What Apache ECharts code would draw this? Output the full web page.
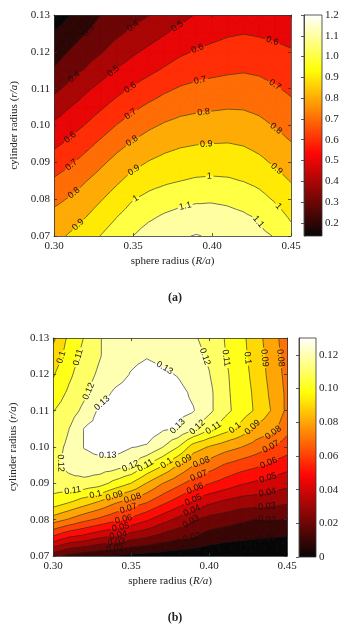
<!DOCTYPE html>
<html><head><meta charset="utf-8">
<script src="https://cdn.jsdelivr.net/npm/echarts@6/dist/echarts.min.js"></script>
<style>html,body{margin:0;padding:0;background:#fff}#c{width:350px;height:629px}</style>
</head><body><div id="c"></div>
<script>
// ---------------- data ----------------
const sphereR = [0.30,0.31,0.32,0.33,0.34,0.35,0.36,0.37,0.38,0.39,0.40,0.41,0.42,0.43,0.44,0.45];
const cylR = [0.070,0.075,0.080,0.085,0.090,0.095,0.100,0.105,0.110,0.115,0.120,0.125,0.130];

// (a) rows: cylinder radius 0.070 -> 0.130, columns: sphere radius 0.30 -> 0.45
const fieldA = [
  [0.870,0.910,0.950,1.005,1.055,1.100,1.145,1.170,1.190,1.205,1.190,1.170,1.150,1.120,1.095,1.036],
  [0.835,0.860,0.900,0.950,1.002,1.049,1.086,1.116,1.135,1.147,1.141,1.130,1.116,1.092,1.044,0.989],
  [0.774,0.809,0.848,0.895,0.944,0.997,1.026,1.051,1.073,1.085,1.089,1.082,1.064,1.031,0.989,0.942],
  [0.713,0.749,0.796,0.841,0.887,0.934,0.966,0.984,0.999,1.011,1.015,1.011,0.997,0.974,0.937,0.895],
  [0.646,0.687,0.735,0.784,0.832,0.872,0.905,0.928,0.944,0.953,0.956,0.955,0.946,0.921,0.886,0.850],
  [0.580,0.621,0.671,0.721,0.771,0.813,0.845,0.871,0.888,0.897,0.901,0.903,0.894,0.872,0.840,0.805],
  [0.518,0.560,0.605,0.655,0.705,0.748,0.784,0.811,0.830,0.839,0.844,0.849,0.843,0.824,0.794,0.763],
  [0.448,0.498,0.545,0.590,0.637,0.681,0.718,0.748,0.770,0.781,0.788,0.794,0.792,0.778,0.751,0.722],
  [0.377,0.427,0.483,0.529,0.571,0.610,0.647,0.683,0.709,0.724,0.732,0.740,0.742,0.732,0.709,0.683],
  [0.308,0.363,0.409,0.462,0.508,0.547,0.579,0.612,0.646,0.666,0.678,0.687,0.693,0.685,0.666,0.645],
  [0.257,0.306,0.354,0.394,0.442,0.486,0.521,0.553,0.584,0.608,0.625,0.639,0.646,0.638,0.623,0.608],
  [0.209,0.253,0.298,0.347,0.385,0.422,0.461,0.495,0.528,0.554,0.573,0.590,0.598,0.591,0.580,0.570],
  [0.140,0.198,0.249,0.302,0.335,0.365,0.398,0.433,0.473,0.505,0.525,0.542,0.551,0.544,0.537,0.533]
];

// (b)
const fieldB = [
  [0.024,0.017,0.014,0.011,0.009,0.007,0.006,0.005,0.004,0.003,0.002,0.001,0.0005,0,0,0],
  [0.057,0.049,0.0455,0.0403,0.037,0.0331,0.0297,0.0252,0.0215,0.0195,0.0151,0.013,0.0117,0.0107,0.0099,0.0088],
  [0.085,0.079,0.0726,0.0676,0.062,0.0576,0.0515,0.0441,0.0375,0.0302,0.0266,0.0245,0.0218,0.0196,0.0202,0.0195],
  [0.107,0.1015,0.0956,0.0895,0.082,0.0765,0.0713,0.0635,0.056,0.0485,0.0425,0.0388,0.0358,0.035,0.0335,0.032],
  [0.114,0.117,0.117,0.114,0.1065,0.0998,0.0896,0.0803,0.073,0.0655,0.0605,0.0561,0.0514,0.0482,0.0455,0.043],
  [0.118,0.1225,0.126,0.126,0.1245,0.121,0.1098,0.101,0.0898,0.0802,0.0753,0.0692,0.0652,0.062,0.0578,0.054],
  [0.116,0.122,0.1305,0.1335,0.1345,0.1305,0.129,0.1205,0.1102,0.095,0.0893,0.0844,0.0805,0.0755,0.0695,0.0647],
  [0.113,0.1198,0.1305,0.1335,0.135,0.136,0.136,0.1315,0.1295,0.1215,0.1115,0.1045,0.097,0.087,0.084,0.073],
  [0.1096,0.115,0.1225,0.132,0.134,0.1355,0.137,0.136,0.133,0.1305,0.1225,0.113,0.106,0.0987,0.0895,0.078],
  [0.104,0.1115,0.118,0.126,0.1315,0.1335,0.136,0.1345,0.1325,0.1285,0.1225,0.1125,0.1053,0.098,0.088,0.078],
  [0.099,0.108,0.1155,0.122,0.1263,0.1305,0.133,0.1315,0.1295,0.1255,0.1205,0.112,0.1046,0.0968,0.0865,0.077],
  [0.094,0.105,0.113,0.1195,0.1265,0.128,0.1295,0.128,0.1265,0.124,0.1185,0.1105,0.1038,0.0955,0.0855,0.076],
  [0.088,0.102,0.1105,0.1195,0.1235,0.1255,0.127,0.1265,0.125,0.1215,0.116,0.1098,0.1032,0.0945,0.0845,0.075]
];

const levelsA = [0.2,0.3,0.4,0.5,0.6,0.7,0.8,0.9,1.0,1.1,1.2];
const levelsB = [0.01,0.02,0.03,0.04,0.05,0.06,0.07,0.08,0.09,0.10,0.11,0.12,0.13];
const cbRangeA = [0.137, 1.2];
const cbRangeB = [0, 0.13];
const cbTicksA = [0.2,0.3,0.4,0.5,0.6,0.7,0.8,0.9,1.0,1.1,1.2];
const cbTicksB = [0,0.02,0.04,0.06,0.08,0.10,0.12];
const xTicks = [0.30,0.35,0.40,0.45];
const yTicks = [0.07,0.08,0.09,0.10,0.11,0.12,0.13];

// ---------------- helpers ----------------
function tone(c){ return Math.round(6 + c * 249); }
function hot(t){
  t = Math.max(0, Math.min(1, t));
  const r = Math.min(1, t / 0.375);
  const g = Math.max(0, Math.min(1, (t - 0.375) / 0.375));
  const b = Math.max(0, Math.min(1, (t - 0.75) / 0.25));
  return 'rgb(' + tone(r) + ',' + tone(g) + ',' + tone(b) + ')';
}
const hotStops = [0, 0.375, 0.75, 1].map(o => ({offset: o, color: hot(o)}));

function makeTris(field){
  const tris = [];
  for (let j = 0; j < cylR.length - 1; j++) for (let i = 0; i < sphereR.length - 1; i++){
    const p00 = {id:'n'+j+'_'+i, x:sphereR[i], y:cylR[j], v:field[j][i]};
    const p10 = {id:'n'+j+'_'+(i+1), x:sphereR[i+1], y:cylR[j], v:field[j][i+1]};
    const p11 = {id:'n'+(j+1)+'_'+(i+1), x:sphereR[i+1], y:cylR[j+1], v:field[j+1][i+1]};
    const p01 = {id:'n'+(j+1)+'_'+i, x:sphereR[i], y:cylR[j+1], v:field[j+1][i]};
    const c = {id:'c'+j+'_'+i, x:(p00.x+p10.x)/2, y:(p00.y+p01.y)/2, v:(p00.v+p10.v+p11.v+p01.v)/4};
    tris.push([p00,p10,c],[p10,p11,c],[p11,p01,c],[p01,p00,c]);
  }
  return tris;
}
function clip(poly, f){
  const out = [];
  for (let k = 0; k < poly.length; k++){
    const a = poly[k], b = poly[(k+1) % poly.length];
    const fa = f(a.v), fb = f(b.v);
    if (fa >= 0) out.push(a);
    if ((fa >= 0) !== (fb >= 0)){
      const t = fa / (fa - fb);
      out.push({x:a.x+(b.x-a.x)*t, y:a.y+(b.y-a.y)*t, v:a.v+(b.v-a.v)*t});
    }
  }
  return out;
}
function chain(segs){
  const adj = new Map();
  segs.forEach((s, i) => s.forEach(k => { if (!adj.has(k)) adj.set(k, []); adj.get(k).push(i); }));
  const used = new Array(segs.length).fill(false);
  const lines = [];
  const walk = start => {
    const out = [start]; let cur = start;
    while (true){
      const list = adj.get(cur) || []; let nxt = -1;
      for (const i of list){ if (!used[i]) { nxt = i; break; } }
      if (nxt < 0) break;
      used[nxt] = true;
      const s = segs[nxt]; cur = (s[0] === cur) ? s[1] : s[0];
      out.push(cur);
    }
    return out;
  };
  for (const [k, list] of adj){ if (list.length === 1 && !used[list[0]]) lines.push(walk(k)); }
  segs.forEach((s, i) => { if (!used[i]) lines.push(walk(s[0])); });
  return lines;
}
function pointAt(pts, cum, d){
  let i = 1; while (i < cum.length - 1 && cum[i] < d) i++;
  const seg = cum[i] - cum[i-1]; const t = seg > 0 ? (d - cum[i-1]) / seg : 0;
  return [pts[i-1][0] + (pts[i][0]-pts[i-1][0])*t, pts[i-1][1] + (pts[i][1]-pts[i-1][1])*t];
}
function subPath(pts, cum, a, b){
  const out = [pointAt(pts, cum, a)];
  for (let i = 0; i < pts.length; i++) if (cum[i] > a && cum[i] < b) out.push(pts[i]);
  out.push(pointAt(pts, cum, b));
  return out;
}
const LABEL_START = 20, LABEL_SPACING = 78, LINE_COLOR = '#161616', LABEL_SIZE = 9;
function drawLabeled(pts, L, closed, kids){
  if (closed){
    const n = pts.length - 1; let idx = 0;
    for (let i = 1; i < n; i++) if (pts[i][1] < pts[idx][1]) idx = i;
    pts = pts.slice(idx, n).concat(pts.slice(0, idx)).concat([pts[idx]]);
  } else if (pts[0][0] < pts[pts.length-1][0]) pts = pts.slice().reverse();
  const cum = [0];
  for (let i = 1; i < pts.length; i++) cum.push(cum[i-1] + Math.hypot(pts[i][0]-pts[i-1][0], pts[i][1]-pts[i-1][1]));
  const total = cum[cum.length-1];
  const text = String(+L.toFixed(3));
  const w = text.replace('.', '').length * LABEL_SIZE * 0.556 + (text.indexOf('.') >= 0 ? LABEL_SIZE * 0.278 : 0);
  const labels = [];
  if (total > 30) for (let d = LABEL_START; d <= total - 12; d += LABEL_SPACING) labels.push(d);
  const pieces = []; let s0 = 0;
  labels.forEach(d => { pieces.push([s0, d - w/2 - 1.5]); s0 = d + w/2 + 1.5; });
  pieces.push([s0, total]);
  pieces.forEach(([a, b]) => {
    if (b - a > 0.3){
      kids.push({type:'polyline', silent:true, z2:20, shape:{points:subPath(pts, cum, a, b)},
        style:{stroke:LINE_COLOR, lineWidth:0.6, fill:null}});
    }
  });
  labels.forEach(d => {
    const p = pointAt(pts, cum, d);
    const p1 = pointAt(pts, cum, Math.max(0, d - 5)), p2 = pointAt(pts, cum, Math.min(total, d + 5));
    let ang = Math.atan2(p2[1]-p1[1], p2[0]-p1[0]);
    if (ang > Math.PI/2) ang -= Math.PI;
    if (ang < -Math.PI/2) ang += Math.PI;
    kids.push({type:'text', silent:true, z2:30, x:p[0], y:p[1], rotation:-ang,
      style:{text:text, fill:'#111', fontSize:LABEL_SIZE, fontFamily:'Liberation Sans', align:'center', verticalAlign:'middle'}});
  });
}
function buildChildren(field, levels, range, api){
  const tris = makeTris(field);
  const px = p => api.coord([p.x, p.y]);
  const kids = [];
  const span = range[1] - range[0];
  // painter's order: paint each super-level set {v >= level} over the one below
  const floors = [-Infinity].concat(levels);
  floors.forEach((lo, k) => {
    const col = k === 0 ? hot(0) : hot((lo - range[0]) / span);
    tris.forEach(tri => {
      const vmax = Math.max(tri[0].v, tri[1].v, tri[2].v);
      if (lo > vmax) return;
      let poly = tri.map(p => ({x:p.x, y:p.y, v:p.v}));
      if (isFinite(lo)) poly = clip(poly, v => v - lo);
      if (poly.length < 3) return;
      kids.push({type:'polygon', silent:true, z2:k, shape:{points:poly.map(px)}, style:{fill:col, stroke:col, lineWidth:0.9}});
    });
  });
  levels.forEach(L => {
    const segs = []; const ptOf = {};
    tris.forEach(tri => {
      const cross = [];
      for (let e = 0; e < 3; e++){
        let a = tri[e], b = tri[(e+1) % 3];
        if ((a.v >= L) !== (b.v >= L)){
          if (a.id > b.id) { const tmp = a; a = b; b = tmp; }
          const key = a.id + '|' + b.id;
          if (!ptOf[key]){ const t = (L - a.v) / (b.v - a.v); ptOf[key] = {x:a.x+(b.x-a.x)*t, y:a.y+(b.y-a.y)*t}; }
          cross.push(key);
        }
      }
      if (cross.length === 2) segs.push(cross);
    });
    chain(segs).forEach(keys => {
      const pts = keys.map(k => px(ptOf[k]));
      drawLabeled(pts, L, keys.length > 2 && keys[0] === keys[keys.length-1], kids);
    });
  });
  return kids;
}

// ---------------- chart ----------------
const SERIF = 'Liberation Serif';
const TXT = '#222';
const AX = '#333';
function mainX(grid, named){
  return {gridIndex:grid, type:'value', min:0.30, max:0.45, interval:0.05, position: named ? 'bottom' : 'top', z:5,
    axisLine:{show:true, onZero:false, lineStyle:{color:AX, width:0.8}},
    axisTick:{show:true, inside:true, length:3, customValues:xTicks, lineStyle:{color:AX, width:0.8}},
    axisLabel:{show:named, customValues:xTicks, formatter:v => v.toFixed(2), color:TXT, fontFamily:SERIF, fontSize:11, margin:5},
    splitLine:{show:false},
    name: named ? 'sphere radius ({i|R/a})' : '', nameLocation:'middle', nameGap:20,
    nameTextStyle:{color:TXT, fontFamily:SERIF, fontSize:11, rich:{i:{fontStyle:'italic', fontFamily:SERIF, fontSize:11, color:TXT}}}};
}
function mainY(grid, named){
  return {gridIndex:grid, type:'value', min:0.07, max:0.13, interval:0.01, position: named ? 'left' : 'right', z:5,
    axisLine:{show:true, onZero:false, lineStyle:{color:AX, width:0.8}},
    axisTick:{show:true, inside:true, length:3, customValues:yTicks, lineStyle:{color:AX, width:0.8}},
    axisLabel:{show:named, customValues:yTicks, formatter:v => v.toFixed(2), color:TXT, fontFamily:SERIF, fontSize:11, margin:4},
    splitLine:{show:false},
    name: named ? 'cylinder radius ({i|r/a})' : '', nameLocation:'middle', nameGap:33, nameRotate:90,
    nameTextStyle:{color:TXT, fontFamily:SERIF, fontSize:11, rich:{i:{fontStyle:'italic', fontFamily:SERIF, fontSize:11, color:TXT}}}};
}
function cbX(grid){ return {gridIndex:grid, type:'value', min:0, max:1, show:false}; }
function cbY(grid, range, ticks, fmt){
  return {gridIndex:grid, type:'value', min:range[0], max:range[1], position:'right', z:5,
    axisLine:{show:true, lineStyle:{color:AX, width:0.8}},
    axisTick:{show:true, inside:true, length:3, customValues:ticks, lineStyle:{color:AX, width:0.8}},
    axisLabel:{customValues:ticks, formatter:fmt, color:TXT, fontFamily:SERIF, fontSize:11, margin:3},
    splitLine:{show:false}};
}
function contourSeries(field, levels, range, ai){
  return {type:'custom', coordinateSystem:'cartesian2d', xAxisIndex:ai, yAxisIndex:ai, clip:true, silent:true,
    data:[[0.375, 0.10]],
    renderItem:(params, api) => ({type:'group', children:buildChildren(field, levels, range, api)})};
}
function colorbarSeries(range, ai){
  return {type:'custom', coordinateSystem:'cartesian2d', xAxisIndex:ai, yAxisIndex:ai, silent:true,
    data:[[0.5, (range[0]+range[1])/2]],
    renderItem:(params, api) => {
      const a = api.coord([0, range[0]]), b = api.coord([1, range[1]]);
      return {type:'rect', shape:{x:a[0], y:b[1], width:b[0]-a[0], height:a[1]-b[1]},
        style:{fill:{type:'linear', x:0, y:1, x2:0, y2:0, colorStops:hotStops}, stroke:AX, lineWidth:0.8}};
    }};
}

const chart = echarts.init(document.getElementById('c'), null, {renderer:'canvas'});
chart.setOption({
  animation:false,
  backgroundColor:'#fff',
  title:[
    {text:'(a)', left:'center', top:287, textStyle:{fontFamily:SERIF, fontSize:12, fontWeight:'bold', color:TXT}},
    {text:'(b)', left:'center', top:607, textStyle:{fontFamily:SERIF, fontSize:12, fontWeight:'bold', color:TXT}}
  ],
  grid:[
    {left:54, top:15, width:237, height:221},
    {left:304, top:15, width:18, height:221},
    {left:53, top:338, width:234, height:218},
    {left:299, top:338, width:17, height:219}
  ],
  xAxis:[mainX(0,true), mainX(0,false), cbX(1), mainX(2,true), mainX(2,false), cbX(3)],
  yAxis:[mainY(0,true), mainY(0,false), cbY(1, cbRangeA, cbTicksA, v => v.toFixed(1)),
         mainY(2,true), mainY(2,false), cbY(3, cbRangeB, cbTicksB, v => v === 0 ? '0' : v.toFixed(2))],
  series:[
    contourSeries(fieldA, levelsA, cbRangeA, 0),
    colorbarSeries(cbRangeA, 2),
    contourSeries(fieldB, levelsB, cbRangeB, 3),
    colorbarSeries(cbRangeB, 5)
  ]
});
</script>
</body></html>
